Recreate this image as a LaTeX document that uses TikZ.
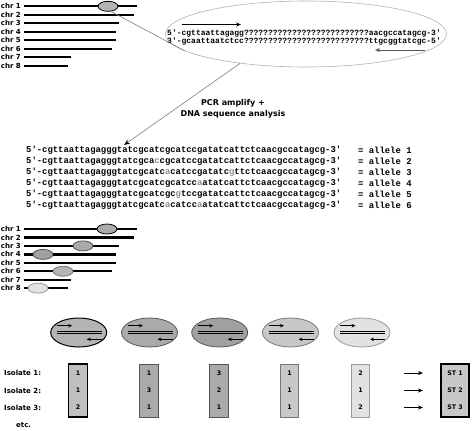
\documentclass[tikz,border=0pt]{standalone}
\usepackage{fontspec}
\usetikzlibrary{shapes.geometric,arrows.meta}
\newfontfamily\labf{DejaVu Sans}
\newfontfamily\seqf{Liberation Mono}
\definecolor{gA}{HTML}{B4B4B4}
\definecolor{gB}{HTML}{AAAAAA}
\definecolor{gC}{HTML}{A0A0A0}
\definecolor{gD}{HTML}{C8C8C8}
\definecolor{gE}{HTML}{E2E2E2}
\definecolor{eA}{HTML}{555555}
\definecolor{eB}{HTML}{777777}
\definecolor{eC}{HTML}{999999}
\definecolor{mut}{HTML}{8C8C8C}
\newcommand{\gr}[1]{\textcolor{mut}{#1}}
\newcommand{\ap}{\char"0027\relax}
\begin{document}
\begin{tikzpicture}[x=1pt,y=-1pt,
  chrlab/.style={font=\labf\bfseries\fontsize{7}{8}\selectfont, inner sep=0pt, anchor=east},
  chrline/.style={line width=2.3pt, black},
  blob/.style={ellipse, minimum width=20pt, minimum height=10pt, inner sep=0pt, line width=0.8pt},
  seq/.style={font=\seqf\bfseries\fontsize{8.9}{10}\selectfont, inner sep=0pt, anchor=west},
  seqs/.style={font=\seqf\bfseries\fontsize{8}{9}\selectfont, inner sep=0pt, anchor=west},
  lab/.style={font=\labf\bfseries\fontsize{7}{8}\selectfont, inner sep=0pt},
  bige/.style={ellipse, minimum width=56pt, minimum height=29pt, inner sep=0pt, line width=0.8pt},
  isobox/.style={rectangle, minimum width=18.5pt, minimum height=53pt, inner sep=0pt, line width=0.8pt},
  num/.style={font=\labf\bfseries\fontsize{6.3}{7}\selectfont, inner sep=0pt},
  fwd/.style={-{Stealth[length=5pt,width=4pt]}, line width=1pt},
  conn/.style={draw=gray, line width=0.6pt}
]
\useasboundingbox (0,0) rectangle (474,431);
\fill[white] (0,0) rectangle (474,431);

% ---- top chromosome set
\foreach \i/\len in {1/137,2/134,3/119,4/116,5/116,6/112,7/71,8/68}{
  \node[chrlab] (ta\i) at (21,{6.3+8.5*(\i-1)}) {chr \i};
  \draw[chrline] (23.5,{6.3+8.5*(\i-1)}) -- (\len,{6.3+8.5*(\i-1)});
}
\node[blob, fill=gA, draw=black] (sel) at (108,6.3) {};

% ---- magnified locus
\node[ellipse, draw=gray!60, line width=0.6pt, minimum width=281pt, minimum height=66pt, inner sep=0pt] (big) at (306,34) {};
\node[seqs] (t5) at (167,33) {5\ap-cgttaattagagg??????????????????????????aacgccatagcg-3\ap};
\node[seqs] (t3) at (167,41.5) {3\ap-gcaattaatctcc??????????????????????????ttgcggtatcgc-5\ap};
\coordinate (p1s) at (182,24.5);
\coordinate (p1e) at (241,24.5);
\coordinate (p2s) at (425,50);
\coordinate (p2e) at (375,50);
\draw[fwd, black] (p1s) -- (p1e);
\draw[fwd, eA] (p2s) -- (p2e);

\draw[conn] (sel.-60) -- (big.188);
\coordinate (tip) at (124,145);
\draw[conn, -{Stealth[length=6pt,width=4.5pt,black]}] (big.204) -- (tip);

\node[lab, align=center, font=\labf\bfseries\fontsize{8}{11}\selectfont] (pcr) at (233,109) {PCR amplify +\\DNA sequence analysis};

% ---- alleles
\node[seq] (al1) at (26,150) {5\ap-cgttaattagagggtatcgcatcgcatccgatatcattctcaacgccatagcg-3\ap};
\node[seq] (al2) at (26,161) {5\ap-cgttaattagagggtatcgca\gr{c}cgcatccgatatcattctcaacgccatagcg-3\ap};
\node[seq] (al3) at (26,172) {5\ap-cgttaattagagggtatcgcatc\gr{a}catccgatatc\gr{g}ttctcaacgccatagcg-3\ap};
\node[seq] (al4) at (26,183) {5\ap-cgttaattagagggtatcgcatcgcatcc\gr{a}atatcattctcaacgccatagcg-3\ap};
\node[seq] (al5) at (26,194) {5\ap-cgttaattagagggtatcgcatcgc\gr{g}tccgatatcattctcaacgccatagcg-3\ap};
\node[seq] (al6) at (26,205) {5\ap-cgttaattagagggtatcgcatc\gr{a}catcc\gr{a}atatcattctcaacgccatagcg-3\ap};
\foreach \i in {1,...,6}{
  \node[seq] (eq\i) at (358,{150+11*(\i-1)}) {= allele \i};
}

% ---- second chromosome set
\foreach \i/\len in {1/137,2/134,3/119,4/116,5/116,6/112,7/71,8/68}{
  \node[chrlab] (tb\i) at (21,{229+8.45*(\i-1)}) {chr \i};
  \draw[chrline] (23.5,{229+8.45*(\i-1)}) -- (\len,{229+8.45*(\i-1)});
}
\node[blob, fill=gB, draw=black] (m1) at (107,229) {};
\node[blob, fill=gB, draw=eA] (m3) at (83,245.9) {};
\node[blob, fill=gC, draw=eA] (m4) at (43,254.35) {};
\node[blob, fill=gD!90!black, draw=eB] (m6) at (63,271.25) {};
\node[blob, fill=gE, draw=eC] (m8) at (38,288.15) {};

% ---- locus ellipses
\node[bige, fill=gA, draw=black, line width=1pt] (e1) at (78.7,332.5) {};
\node[bige, fill=gB, draw=eA] (e2) at (149.5,332.5) {};
\node[bige, fill=gC, draw=eA] (e3) at (219.7,332.5) {};
\node[bige, fill=gD, draw=eB] (e4) at (290.5,332.5) {};
\node[bige, fill=gE, draw=eC] (e5) at (362,332.5) {};
\foreach \i in {1,...,5}{
  \begin{scope}[shift={(e\i.center)}]
    \draw[line width=0.9pt] (-22,-1.4) -- (23,-1.4);
    \draw[line width=0.9pt] (-22,1.4) -- (23,1.4);
    \draw[-{Stealth[length=4pt,width=3.5pt]}, line width=0.8pt] (-22,-6.8) -- (-6.5,-6.8);
    \draw[-{Stealth[length=4pt,width=3.5pt]}, line width=0.8pt] (23,6.8) -- (8,6.8);
  \end{scope}
}

% ---- isolate table
\node[lab, anchor=west] (i1) at (4,373) {Isolate 1:};
\node[lab, anchor=west] (i2) at (4,390.5) {Isolate 2:};
\node[lab, anchor=west] (i3) at (4,407.5) {Isolate 3:};
\node[lab, anchor=west] (etc) at (16,425) {etc.};

\node[isobox, fill=gA!85!white, draw=black, line width=1.1pt] (b1) at (78,390.5) {};
\node[isobox, fill=gB, draw=eA] (b2) at (149,390.5) {};
\node[isobox, fill=gB, draw=eA] (b3) at (219,390.5) {};
\node[isobox, fill=gD, draw=eB] (b4) at (289.5,390.5) {};
\node[isobox, fill=gE, draw=eC] (b5) at (360.5,390.5) {};
\foreach \b/\x/\p/\q/\r in {1/78/1/1/2, 2/149/1/3/1, 3/219/3/2/1, 4/289.5/1/1/1, 5/360.5/2/1/2}{
  \node[num] (n\b a) at (\x,373) {\p};
  \node[num] (n\b b) at (\x,390.5) {\q};
  \node[num] (n\b c) at (\x,407.5) {\r};
}
\node[isobox, minimum width=28pt, fill=gD, draw=black, line width=1.4pt] (st) at (455,390.5) {};
\node[num] (st1) at (455,373) {ST 1};
\node[num] (st2) at (455,390.5) {ST 2};
\node[num] (st3) at (455,407.5) {ST 3};
\foreach \j/\y in {1/373,2/390.5,3/407.5}{
  \coordinate (as\j) at (404,\y);
  \coordinate (ae\j) at (423,\y);
  \draw[fwd] (as\j) -- (ae\j);
}
\end{tikzpicture}
\end{document}
